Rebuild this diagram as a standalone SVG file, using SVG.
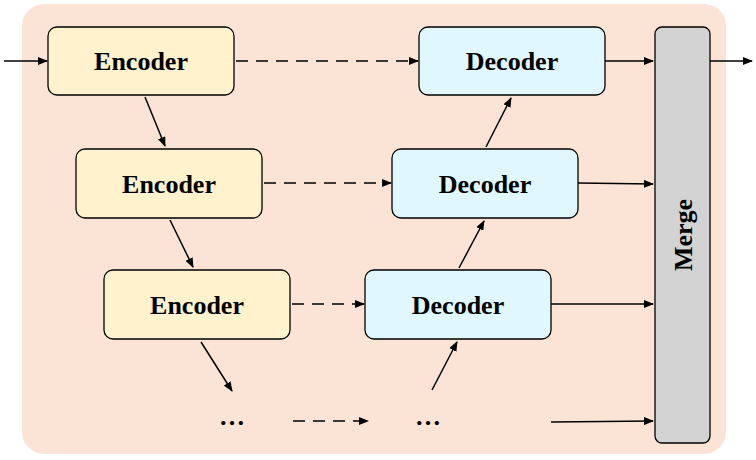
<svg xmlns="http://www.w3.org/2000/svg" width="756" height="460" viewBox="0 0 756 460">
<defs>
<marker id="ah" markerWidth="10" markerHeight="8" refX="9" refY="4" orient="auto" markerUnits="userSpaceOnUse"><path d="M0,0 L10,4 L0,8 z" fill="#000"/></marker>
<style>
.enc{fill:#fff2cc;stroke:#000;stroke-width:1.3}
.dec{fill:#dff7fd;stroke:#000;stroke-width:1.3}
.t{font-family:"Liberation Serif",serif;font-weight:bold;font-size:26px;text-anchor:middle;dominant-baseline:central}
.c line{stroke:#000;stroke-width:1.5;marker-end:url(#ah)}
.c .d{stroke-dasharray:12,8}
</style>
</defs>
<rect x="22" y="4" width="704" height="450" rx="22" fill="#fbe3d6"/>
<g id="enc1"><rect class="enc" x="48" y="27" width="186" height="68" rx="9"/><text class="t" x="141" y="61">Encoder</text></g>
<g id="enc2"><rect class="enc" x="76" y="149" width="186" height="69" rx="9"/><text class="t" x="169" y="184">Encoder</text></g>
<g id="enc3"><rect class="enc" x="104" y="270" width="186" height="69" rx="9"/><text class="t" x="197" y="305">Encoder</text></g>
<g id="dec1"><rect class="dec" x="419" y="27" width="186" height="68" rx="9"/><text class="t" x="512" y="61">Decoder</text></g>
<g id="dec2"><rect class="dec" x="392" y="149" width="186" height="69" rx="9"/><text class="t" x="485" y="184">Decoder</text></g>
<g id="dec3"><rect class="dec" x="365" y="270" width="186" height="69" rx="9"/><text class="t" x="458" y="305">Decoder</text></g>
<g id="merge"><rect x="655" y="27" width="55" height="416" rx="7" fill="#d3d3d3" stroke="#000" stroke-width="1.3"/><text class="t" transform="translate(683,235) rotate(-90)">Merge</text></g>
<g id="dots"><text class="t" x="232" y="416">…</text><text class="t" x="428" y="416">…</text></g>
<g class="c" id="connectors">
<line x1="4" y1="61" x2="47" y2="61"/>
<line class="d" x1="236" y1="61" x2="418" y2="61"/>
<line class="d" x1="264" y1="183" x2="391" y2="183"/>
<line class="d" x1="292" y1="304" x2="364" y2="304"/>
<line class="d" x1="293" y1="421" x2="368" y2="421"/>
<line x1="145" y1="97" x2="165" y2="146"/>
<line x1="170" y1="220" x2="193" y2="267"/>
<line x1="201" y1="342" x2="232" y2="391"/>
<line x1="432" y1="390" x2="457" y2="342"/>
<line x1="459" y1="268" x2="484" y2="221"/>
<line x1="486" y1="147" x2="511" y2="98"/>
<line x1="605" y1="61" x2="653" y2="61"/>
<line x1="578" y1="183" x2="653" y2="184"/>
<line x1="551" y1="304" x2="653" y2="304"/>
<line x1="551" y1="422" x2="653" y2="421"/>
<line x1="710" y1="61" x2="752" y2="61"/>
</g>
</svg>
